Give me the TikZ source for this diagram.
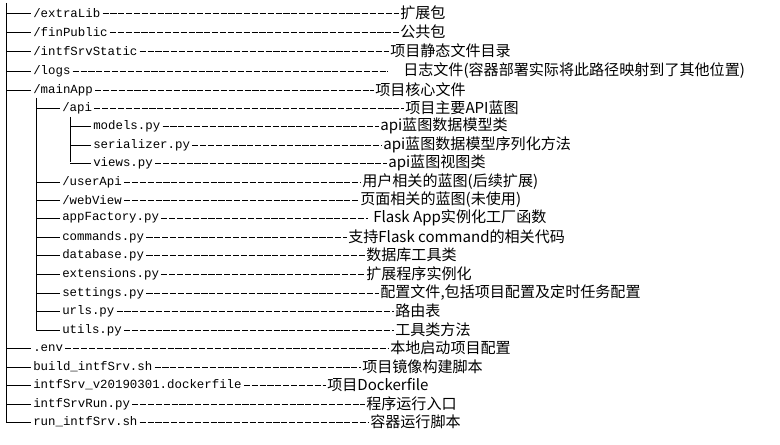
\documentclass[tikz,border=0pt]{standalone}
\usepackage{fontspec}
\setmonofont{Liberation Mono}
\newfontfamily\cjk{Noto Sans CJK SC}
\begin{document}
\begin{tikzpicture}[x=0.75pt, y=-0.75pt,
    item/.style={anchor=west, inner sep=0pt, font=\fontsize{9.3}{10}\ttfamily},
    note/.style={anchor=west, inner sep=0pt, font=\fontsize{11.3}{12}\cjk},
    lead/.style={line width=0.5pt, dash pattern=on 4.6pt off 1.3pt},
    tree/.style={line width=0.6pt}]
    \useasboundingbox (0, 0) rectangle (780, 445);

    % tree lines
    \draw[tree] (6, 3) -- (6, 422);
    \draw[tree] (36, 98) -- (36, 330);
    \draw[tree] (70, 117) -- (70, 162);
    \foreach \y in {13, 32, 51, 71, 90, 348, 367, 385, 404} \draw[tree] (6, \y) -- (31, \y);
    \draw[tree] (6, 422) -- (31, 422);
    \foreach \y in {108, 182, 200, 218, 237, 255, 274, 293, 311, 330} \draw[tree] (36, \y) -- (60, \y);
    \foreach \y in {126, 145, 163} \draw[tree] (70, \y) -- (91, \y);

    \node[item] (n01) at (33, 13) {/extraLib};
    \node[note] (d01) at (400, 13) {扩展包};
    \node[item] (n02) at (33, 32) {/finPublic};
    \node[note] (d02) at (400, 32) {公共包};
    \node[item] (n03) at (33, 51) {/intfSrvStatic};
    \node[note] (d03) at (390, 51) {项目静态文件目录};
    \node[item] (n04) at (33, 71) {/logs};
    \node[note] (d04) at (403, 71) {日志文件(容器部署实际将此路径映射到了其他位置)};
    \node[item] (n05) at (33, 90) {/mainApp};
    \node[note] (d05) at (375, 90) {项目核心文件};
    \node[item] (n06) at (62, 108) {/api};
    \node[note] (d06) at (405, 108) {项目主要API蓝图};
    \node[item] (n07) at (93, 126) {models.py};
    \node[note] (d07) at (380, 126) {api蓝图数据模型类};
    \node[item] (n08) at (93, 145) {serializer.py};
    \node[note] (d08) at (383, 145) {api蓝图数据模型序列化方法};
    \node[item] (n09) at (93, 163) {views.py};
    \node[note] (d09) at (388, 163) {api蓝图视图类};
    \node[item] (n10) at (62, 182) {/userApi};
    \node[note] (d10) at (362, 182) {用户相关的蓝图(后续扩展)};
    \node[item] (n11) at (62, 200) {/webView};
    \node[note] (d11) at (360, 200) {页面相关的蓝图(未使用)};
    \node[item] (n12) at (62, 218) {appFactory.py};
    \node[note] (d12) at (373, 218) {Flask App实例化工厂函数};
    \node[item] (n13) at (62, 237) {commands.py};
    \node[note] (d13) at (348, 237) {支持Flask command的相关代码};
    \node[item] (n14) at (62, 255) {database.py};
    \node[note] (d14) at (366, 255) {数据库工具类};
    \node[item] (n15) at (62, 274) {extensions.py};
    \node[note] (d15) at (366, 274) {扩展程序实例化};
    \node[item] (n16) at (62, 293) {settings.py};
    \node[note] (d16) at (380, 293) {配置文件,包括项目配置及定时任务配置};
    \node[item] (n17) at (62, 311) {urls.py};
    \node[note] (d17) at (395, 311) {路由表};
    \node[item] (n18) at (62, 330) {utils.py};
    \node[note] (d18) at (395, 330) {工具类方法};
    \node[item] (n19) at (33, 348) {.env};
    \node[note] (d19) at (390, 348) {本地启动项目配置};
    \node[item] (n20) at (33, 367) {build\_intfSrv.sh};
    \node[note] (d20) at (362, 367) {项目镜像构建脚本};
    \node[item] (n21) at (33, 385) {intfSrv\_v20190301.dockerfile};
    \node[note] (d21) at (327, 385) {项目Dockerfile};
    \node[item] (n22) at (33, 404) {intfSrvRun.py};
    \node[note] (d22) at (366, 404) {程序运行入口};
    \node[item] (n23) at (33, 422) {run\_intfSrv.sh};
    \node[note] (d23) at (370, 422) {容器运行脚本};

    % dashed leaders
    \foreach \i in {01,02,03,05,06,07,08,09,10,11,13,14,15,16,17,18,19,20,21,22,23}
        \draw[lead] ([xshift=1.5pt]n\i.east) -- ([xshift=-1pt]d\i.west);
    \draw[lead] ([xshift=1.5pt]n04.east) -- ([xshift=-11pt]d04.west);
    \draw[lead] ([xshift=1.5pt]n12.east) -- ([xshift=-4pt]d12.west);
\end{tikzpicture}
\end{document}
